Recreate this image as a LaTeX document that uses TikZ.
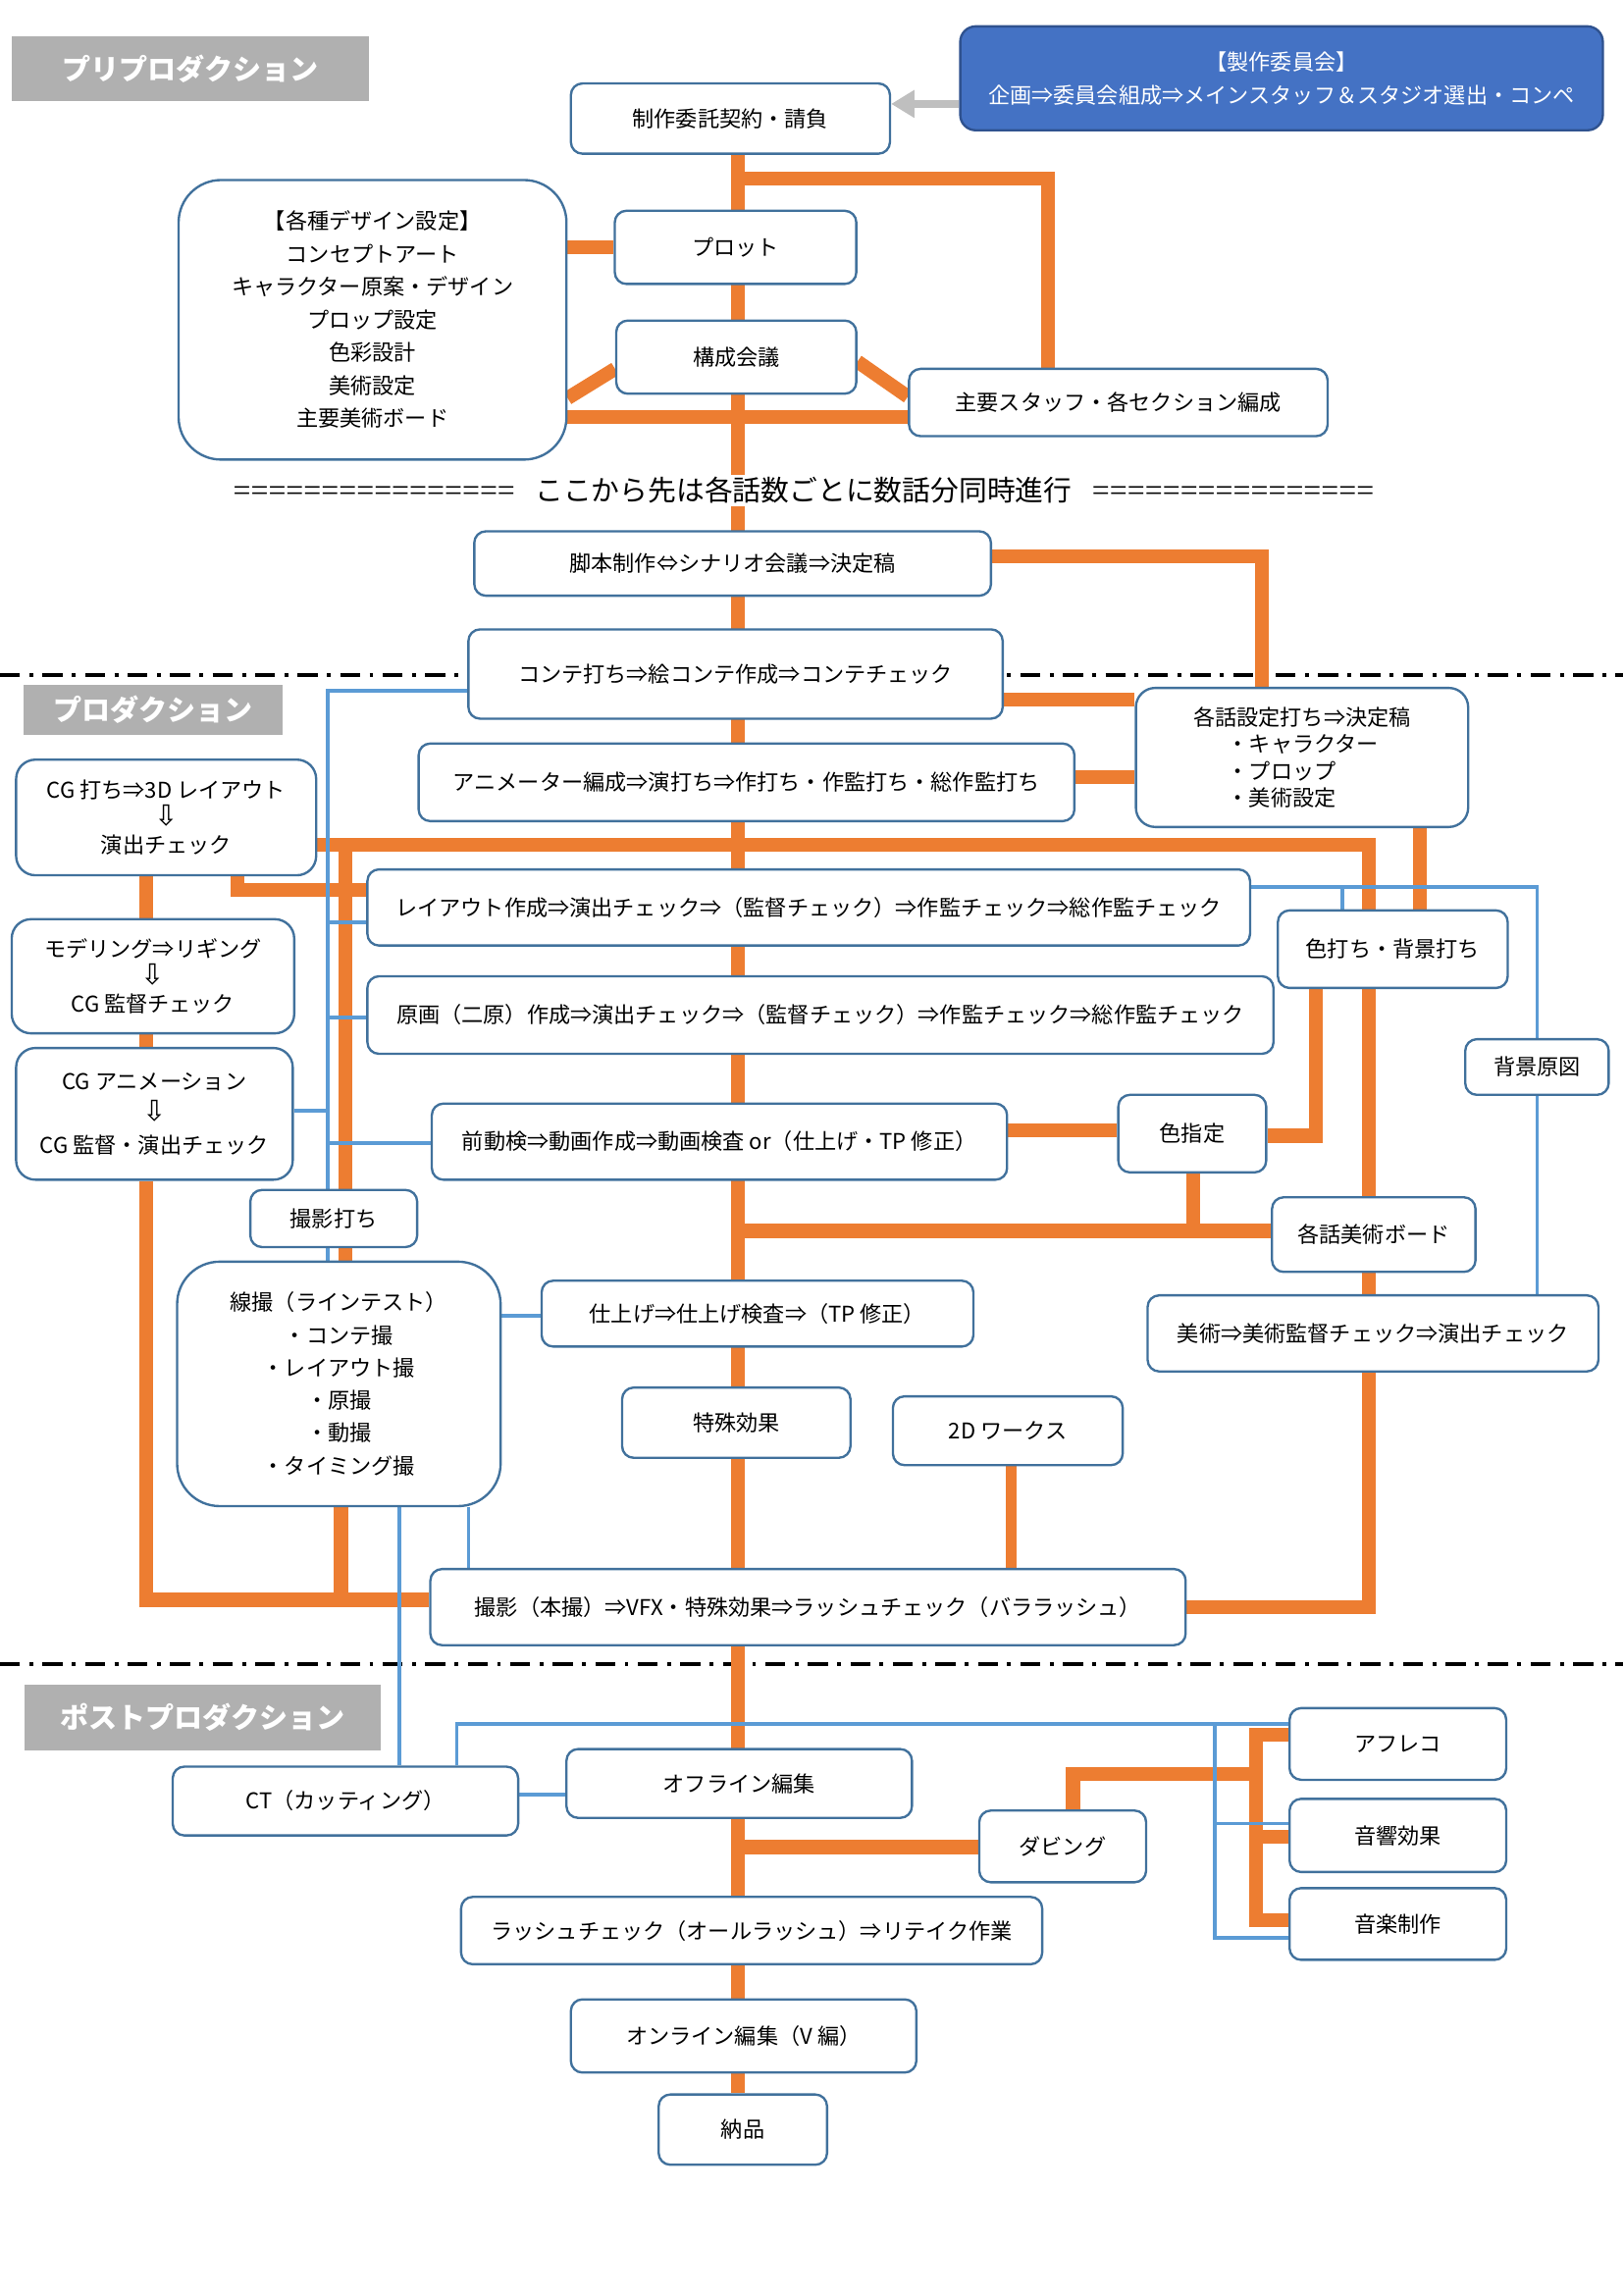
\documentclass[tikz,border=0pt]{standalone}
\usepackage{fontspec}
\setmainfont{Noto Sans CJK JP}
\newfontfamily\symFont{DejaVu Sans}
\newfontfamily\eqFont{Liberation Serif}
\usetikzlibrary{arrows.meta}
\pgfdeclarelayer{background}
\pgfsetlayers{background,main}
\definecolor{boxLine}{RGB}{65,113,156}
\definecolor{lineOrange}{RGB}{237,125,49}
\definecolor{lineBlue}{RGB}{91,155,213}
\definecolor{labelGray}{RGB}{176,176,176}
\definecolor{arrowGray}{RGB}{191,191,191}
\definecolor{committeeBlue}{RGB}{68,114,196}
\definecolor{committeeLine}{RGB}{47,82,143}
\newcommand{\pxUnit}{0.18936mm}
\tikzstyle{sheet} = [x=0.18936mm, y=-0.18936mm]
\tikzstyle{boxStyle} = [draw=boxLine, line width=0.3mm, fill=white, rounded corners=1.5mm, inner sep=0pt, align=center, font=\fontsize{8}{10}\selectfont]
\tikzstyle{midRound} = [rounded corners=2.5mm]
\tikzstyle{roundBox} = [rounded corners=5.5mm]
\tikzstyle{committeeBox} = [fill=committeeBlue, draw=committeeLine, text=white, rounded corners=2mm, font=\fontsize{8}{12.2}\selectfont]
\tikzstyle{sectionLabel} = [fill=labelGray, draw=none, rounded corners=0pt, text=white, font=\fontsize{10.5}{12}\selectfont\bfseries]
\tikzstyle{orangeLine} = [color=lineOrange, line width=1.8mm]
\tikzstyle{thinOrange} = [color=lineOrange, line width=1.4mm]
\tikzstyle{blueLine} = [color=lineBlue, line width=0.45mm]
\tikzstyle{phaseLine} = [color=black, line width=0.5mm, dash pattern=on 2.6mm off 1.2mm on 0.5mm off 1.2mm]
\tikzstyle{grayArrow} = [color=arrowGray, line width=1mm, -{Triangle[length=3mm, width=3.4mm]}]
\newcommand{\flowBox}[7][]{\node [boxStyle, #1, minimum width={(#5-#3)*\pxUnit}, minimum height={(#6-#4)*\pxUnit}] (#2) at ({(#3+#5)/2},{(#4+#6)/2}) {#7};}
\newcommand{\downMark}{{\symFont\fontsize{10.5}{10}\selectfont ⇩}}
\newcommand{\equalsRun}{{\eqFont\fontsize{11.5}{12}\selectfont ================}}

\begin{document}
\begin{tikzpicture}[sheet]
  \useasboundingbox (0,0) rectangle (1109,1568);
  \flowBox[sectionLabel]{prePhase}{8}{25}{252}{69}{プリプロダクション}
  \flowBox[sectionLabel]{prodPhase}{16}{468}{193}{502}{プロダクション}
  \flowBox[sectionLabel]{postPhase}{17}{1151}{260}{1196}{ポストプロダクション}

  \flowBox{seisaku}{390}{57}{608}{105}{制作委託契約・請負}
  \flowBox[committeeBox]{iinkai}{656}{18}{1095}{89}{【製作委員会】\\企画⇒委員会組成⇒メインスタッフ＆スタジオ選出・コンペ}
  \flowBox[roundBox, font=\fontsize{8}{12.1}\selectfont]{design}{122}{123}{387}{314}{【各種デザイン設定】\\コンセプトアート\\キャラクター原案・デザイン\\プロップ設定\\色彩設計\\美術設定\\主要美術ボード}
  \flowBox{plot}{420}{144}{585}{194}{プロット}
  \flowBox{kosei}{421}{219}{585}{269}{構成会議}
  \flowBox{staff}{621}{252}{907}{298}{主要スタッフ・各セクション編成}
  \node [fill=white, inner sep=1pt] (parallelNote) at (549,335) {\equalsRun\hspace{2.6mm}{\fontsize{10.4}{12}\selectfont ここから先は各話数ごとに数話分同時進行}\hspace{2.6mm}\equalsRun};

  \flowBox{kyakuhon}{324}{363}{677}{407}{脚本制作⇔シナリオ会議⇒決定稿}
  \flowBox{conte}{320}{430}{685}{491}{コンテ打ち⇒絵コンテ作成⇒コンテチェック}
  \flowBox[midRound, align=left, font=\fontsize{8}{9.9}\selectfont]{settei}{776}{470}{1003}{565}{各話設定打ち⇒決定稿\\\hspace*{4.4mm}・キャラクター\\\hspace*{4.4mm}・プロップ\\\hspace*{4.4mm}・美術設定}
  \flowBox{animator}{286}{508}{734}{561}{アニメーター編成⇒演打ち⇒作打ち・作監打ち・総作監打ち}
  \flowBox[midRound, font=\fontsize{8}{10.2}\selectfont]{cgLayout}{11}{519}{216}{598}{CG 打ち⇒3D レイアウト\\\downMark\\演出チェック}
  \flowBox{layout}{251}{594}{854}{646}{レイアウト作成⇒演出チェック⇒（監督チェック）⇒作監チェック⇒総作監チェック}
  \flowBox{iroboku}{873}{622}{1030}{675}{色打ち・背景打ち}
  \flowBox[midRound, font=\fontsize{8}{10.2}\selectfont]{cgModel}{8}{628}{201}{706}{モデリング⇒リギング\\\downMark\\CG 監督チェック}
  \flowBox{genga}{251}{667}{870}{720}{原画（二原）作成⇒演出チェック⇒（監督チェック）⇒作監チェック⇒総作監チェック}
  \flowBox{haikei}{1001}{710}{1099}{748}{背景原図}
  \flowBox[midRound, font=\fontsize{8}{11.8}\selectfont]{cgAnime}{11}{716}{200}{806}{CG アニメーション\\\downMark\\CG 監督・演出チェック}
  \flowBox{douga}{295}{754}{688}{806}{前動検⇒動画作成⇒動画検査 or（仕上げ・TP 修正）}
  \flowBox{iroshitei}{764}{748}{865}{801}{色指定}
  \flowBox{satsuUchi}{171}{813}{285}{852}{撮影打ち}
  \flowBox{bijutsuBoard}{869}{818}{1008}{869}{各話美術ボード}
  \flowBox[roundBox, font=\fontsize{8}{12}\selectfont]{sensatsu}{121}{862}{342}{1029}{線撮（ラインテスト）\\・コンテ撮\\・レイアウト撮\\・原撮\\・動撮\\・タイミング撮}
  \flowBox{shiage}{370}{875}{665}{920}{仕上げ⇒仕上げ検査⇒（TP 修正）}
  \flowBox{bijutsu}{784}{885}{1092}{937}{美術⇒美術監督チェック⇒演出チェック}
  \flowBox{tokushu}{425}{948}{581}{996}{特殊効果}
  \flowBox{twoD}{610}{954}{767}{1001}{2D ワークス}
  \flowBox{satsuei}{294}{1072}{810}{1124}{撮影（本撮）⇒VFX・特殊効果⇒ラッシュチェック（バララッシュ）}

  \flowBox{ct}{118}{1207}{354}{1254}{CT（カッティング）}
  \flowBox{offline}{387}{1195}{623}{1242}{オフライン編集}
  \flowBox{afreco}{881}{1167}{1029}{1216}{アフレコ}
  \flowBox{dubbing}{669}{1237}{783}{1286}{ダビング}
  \flowBox{onkyo}{881}{1229}{1029}{1279}{音響効果}
  \flowBox{rush}{315}{1296}{712}{1342}{ラッシュチェック（オールラッシュ）⇒リテイク作業}
  \flowBox{ongaku}{881}{1290}{1029}{1339}{音楽制作}
  \flowBox{online}{390}{1366}{626}{1416}{オンライン編集（V 編）}
  \flowBox{nouhin}{450}{1431}{565}{1479}{納品}

  \draw [grayArrow] (iinkai.west |- 0,71) -- (seisaku.east |- 0,71);

  \begin{pgfonlayer}{background}
    \draw [phaseLine] (0,461) -- (1109,461);
    \draw [phaseLine] (0,1137) -- (1109,1137);
    \coordinate (spine) at (504,0);

    \draw [orangeLine] (seisaku.south -| spine) -- (nouhin.north -| spine);
    \draw [orangeLine] (spine |- 0,122) -- (716,122) -- (staff.north -| 716,0);
    \draw [orangeLine] (design.east |- plot.west) -- (plot.west);
    \draw [orangeLine] (design.east |- 0,272) -- (kosei.west |- 0,252);
    \draw [orangeLine] (kosei.east |- 0,247) -- (staff.west |- 0,271);
    \draw [orangeLine] (design.east |- 0,285) -- (staff.west |- 0,285);
    \draw [orangeLine] (kyakuhon.east |- 0,380) -- (862,380) -- (settei.north -| 862,0);
    \draw [orangeLine] (conte.east |- 0,478) -- (settei.west |- 0,478);
    \draw [orangeLine] (animator.east |- 0,531) -- (settei.west |- 0,531);
    \draw [orangeLine] (cgLayout.east |- 0,577) -- (935,577) -- (935,1098) -- (satsuei.east |- 0,1098);
    \draw [orangeLine] (settei.south -| 970,0) -- (iroboku.north -| 970,0);
    \draw [orangeLine] (iroboku.south -| 899,0) -- (899,776) -- (iroshitei.east |- 0,776);
    \draw [orangeLine] (douga.east |- 0,772) -- (iroshitei.west |- 0,772);
    \draw [orangeLine] (iroshitei.south -| 815,0) -- (815,841);
    \draw [orangeLine] (spine |- 0,841) -- (bijutsuBoard.west |- 0,841);
    \draw [orangeLine] (cgLayout.south -| 100,0) -- (cgModel.north -| 100,0);
    \draw [orangeLine] (cgModel.south -| 100,0) -- (cgAnime.north -| 100,0);
    \draw [orangeLine] (cgAnime.south -| 100,0) -- (100,1093) -- (satsuei.west |- 0,1093);
    \draw [orangeLine] (sensatsu.south -| 233,0) -- (233,1093);
    \draw [orangeLine] (cgLayout.south -| 162,0) -- (162,608) -- (layout.west |- 0,608);
    \draw [orangeLine] (236,577) -- (satsuUchi.north -| 236,0);
    \draw [orangeLine] (satsuUchi.south -| 236,0) -- (sensatsu.north -| 236,0);
    \draw [thinOrange] (twoD.south -| 691,0) -- (satsuei.north -| 691,0);
    \draw [orangeLine] (spine |- 0,1262) -- (dubbing.west |- 0,1262);
    \draw [orangeLine] (dubbing.north -| 733,0) -- (733,1212) -- (858,1212);
    \draw [orangeLine] (afreco.west |- 0,1185) -- (858,1185) -- (858,1312) -- (ongaku.west |- 0,1312);
    \draw [orangeLine] (858,1255) -- (onkyo.west |- 0,1255);

    \draw [blueLine] (conte.west |- 0,472) -- (224,472) -- (satsuUchi.north -| 224,0);
    \draw [blueLine] (224,630) -- (layout.west |- 0,630);
    \draw [blueLine] (224,695) -- (genga.west |- 0,695);
    \draw [blueLine] (cgAnime.east |- 0,759) -- (224,759);
    \draw [blueLine] (224,781) -- (douga.west |- 0,781);
    \draw [blueLine] (satsuUchi.south -| 224,0) -- (sensatsu.north -| 224,0);
    \draw [blueLine] (sensatsu.east |- 0,899) -- (shiage.west |- 0,899);
    \draw [blueLine] (sensatsu.south -| 273,0) -- (ct.north -| 273,0);
    \draw [blueLine] (sensatsu.south -| 320,0) -- (satsuei.north -| 320,0);
    \draw [blueLine] (ct.north -| 312,0) -- (312,1178) -- (afreco.west |- 0,1178);
    \draw [blueLine] (ct.east |- 0,1226) -- (offline.west |- 0,1226);
    \draw [blueLine] (830,1178) -- (830,1324) -- (ongaku.west |- 0,1324);
    \draw [blueLine] (830,1246) -- (onkyo.west |- 0,1246);
    \draw [blueLine] (layout.east |- 0,606) -- (1050,606) -- (haikei.north -| 1050,0);
    \draw [blueLine] (917,606) -- (iroboku.north -| 917,0);
    \draw [blueLine] (haikei.south -| 1050,0) -- (bijutsu.north -| 1050,0);
  \end{pgfonlayer}
\end{tikzpicture}
\end{document}
